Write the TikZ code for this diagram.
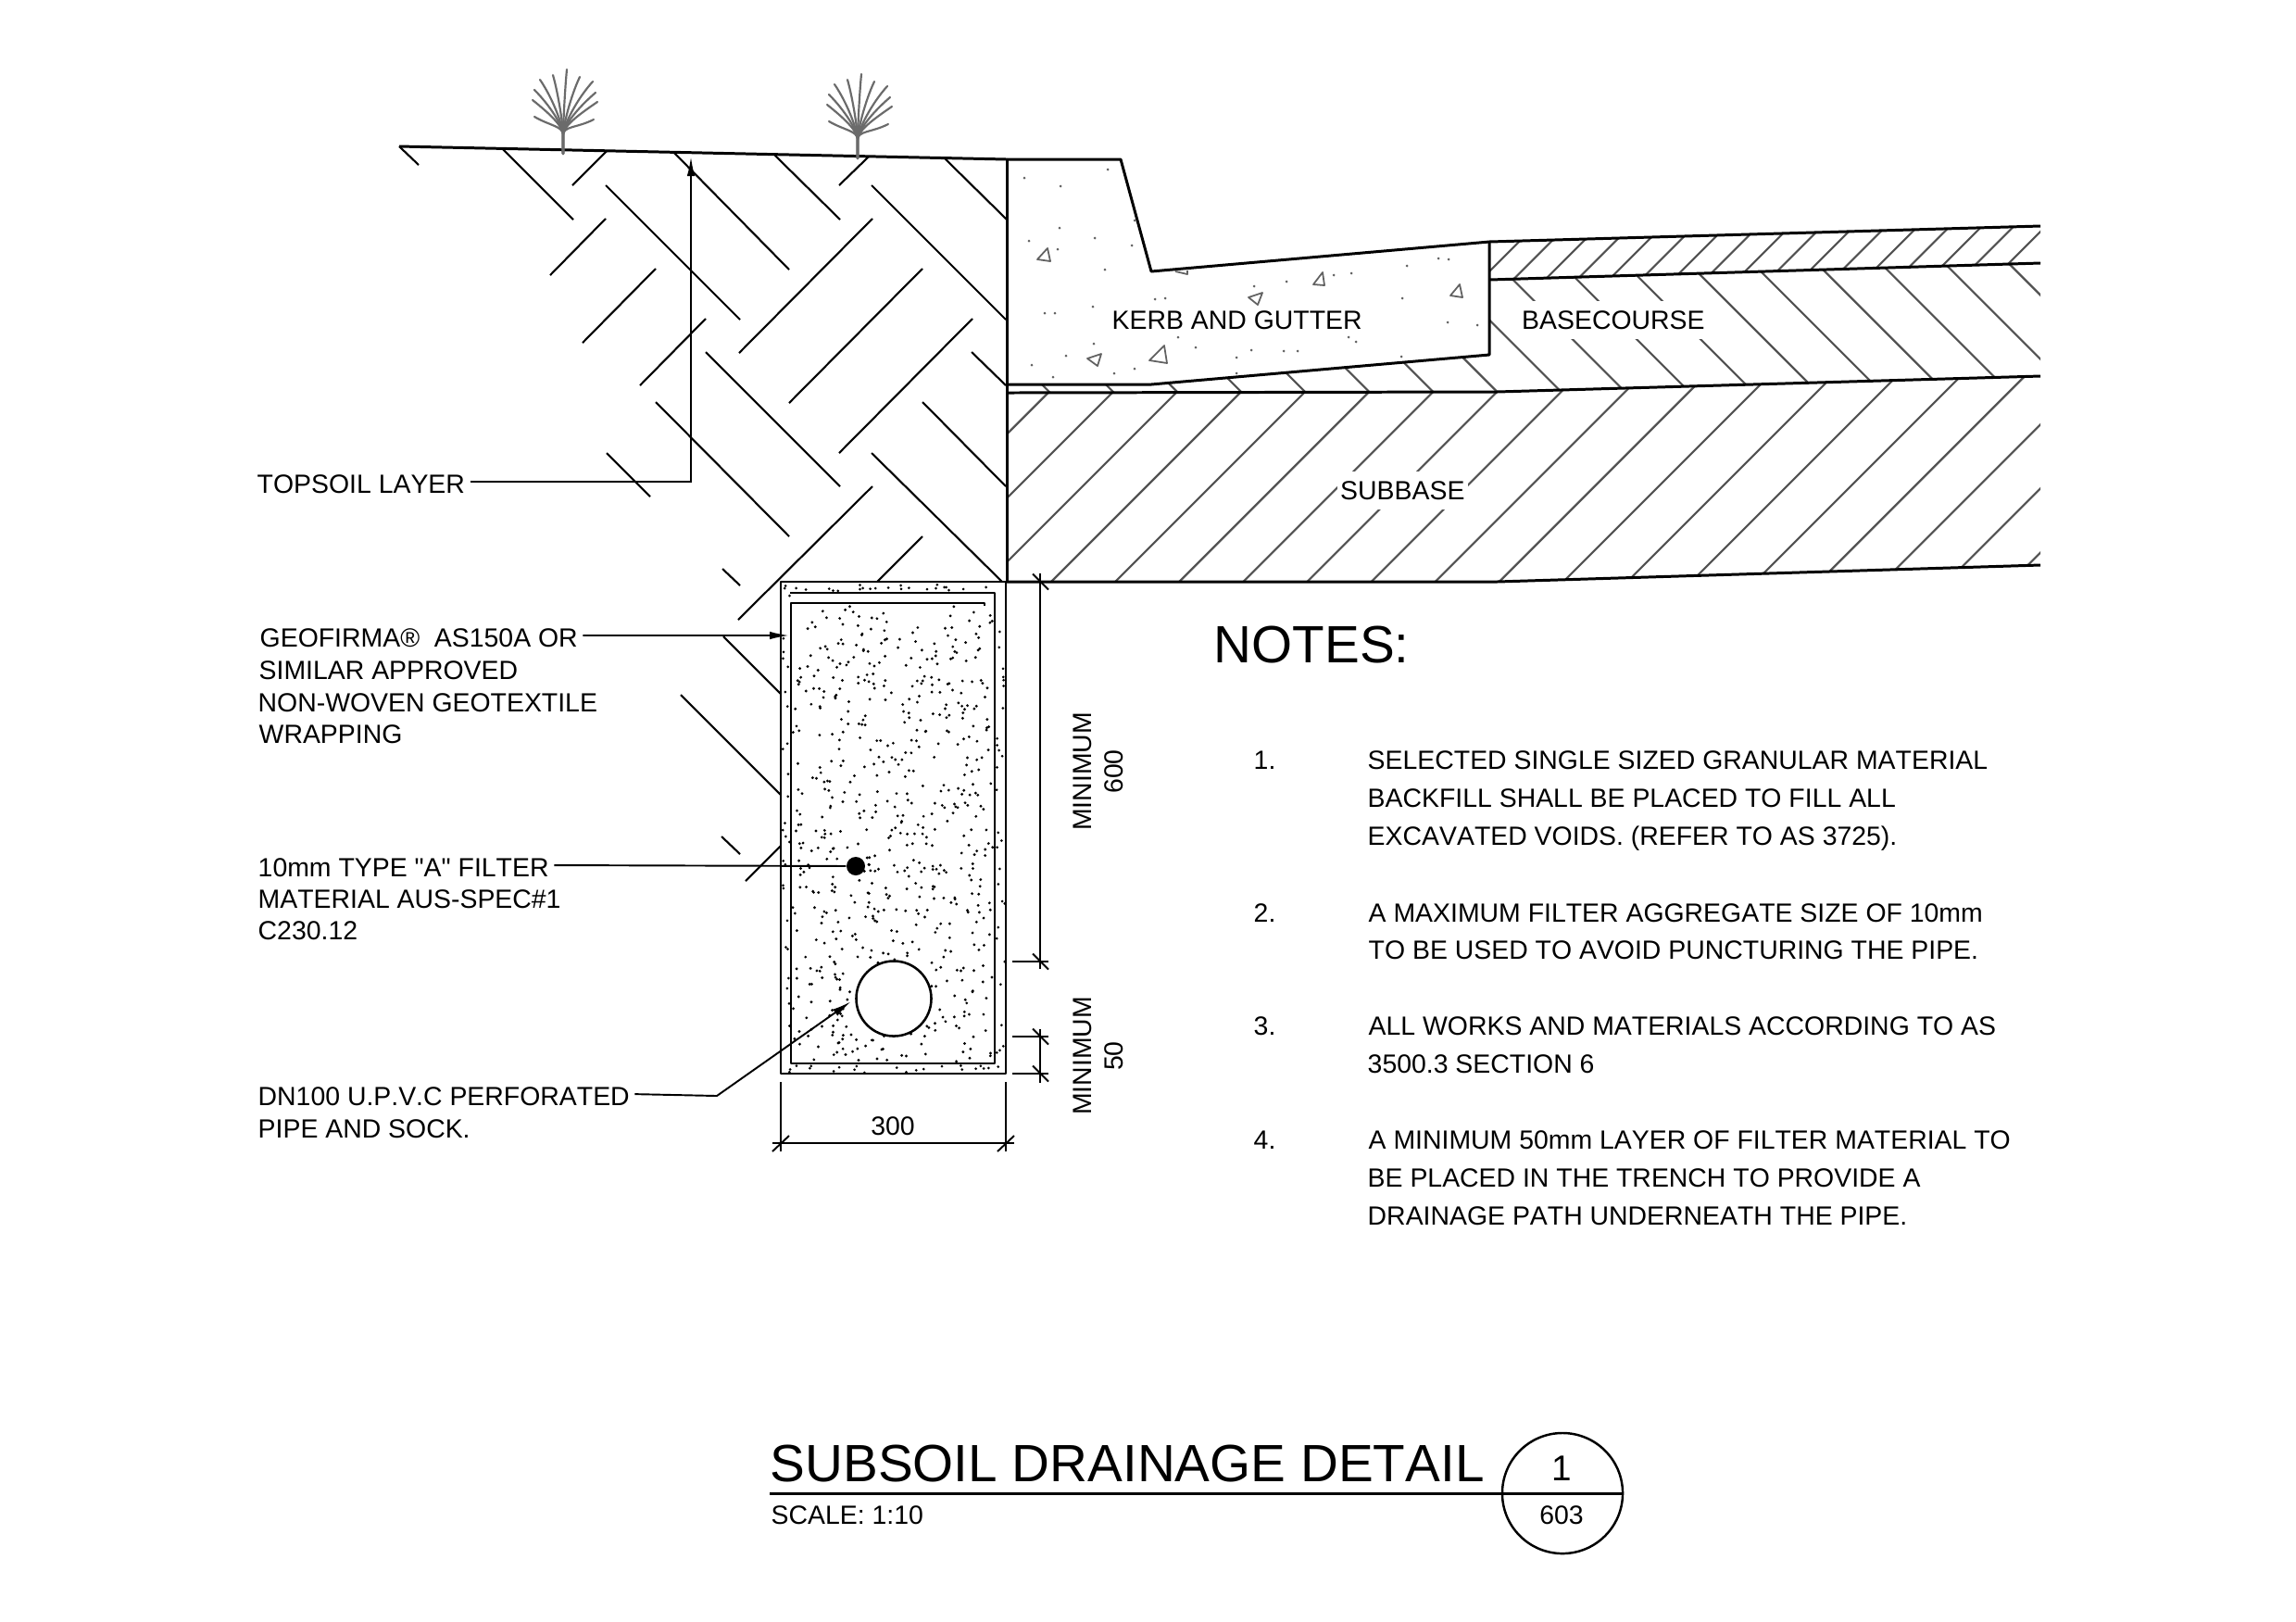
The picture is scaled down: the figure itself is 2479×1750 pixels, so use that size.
\documentclass[tikz,border=0pt]{standalone}
\usepackage{fontspec}
\setmainfont[Kerning=Off,Ligatures=TeXOff]{Liberation Sans}
\usetikzlibrary{arrows.meta}
\begin{document}
\begin{tikzpicture}[x=0.01cm,y=-0.01cm,
  main line/.style={line width=.85pt,line join=round},
  trench line/.style={line width=.72pt,line join=round},
  soil line/.style={line width=.6pt},
  thin line/.style={line width=.55pt},
  hatch line/.style={line width=.62pt,black!68},
  stone/.style={line width=.5pt,black!62,line join=round},
  lead tip/.style={-{Latex[length=2.1mm,width=.85mm]}},
  label node/.style={anchor=base west,inner sep=0pt,text height=.24cm,text depth=0pt,font=\fontsize{8.08}{10}\selectfont},
  void node/.style={anchor=base west,inner xsep=1pt,inner ysep=0pt,fill=white,text height=.30cm,text depth=.11cm,font=\fontsize{8.08}{10}\selectfont},
  side node/.style={anchor=base,rotate=90,inner sep=0pt,font=\fontsize{8.08}{10}\selectfont},
  big node/.style={anchor=base west,inner sep=0pt,font=\fontsize{16.1}{18}\selectfont},
  plant/.pic={
    \foreach \tx/\ty in {4/-91,-11/-85,18/-83,-25/-80,32/-78,-31/-69,35/-66,-33/-58,37/-56,-31/-40,33/-37}
      \draw[line width=.62pt,black!58,line cap=round] (0,0) -- (0,-20) .. controls (0,-30) and ({\tx*0.45},{\ty*0.75}) .. (\tx,\ty);
  }]
  \useasboundingbox (0,0) rectangle (2479,1750);

  % pavement hatching
  \begin{scope}
    \clip (1087,424) -- (1616,423) -- (2203,406) -- (2203,610) -- (1616,628) -- (1087,628) -- cycle;
    \foreach \k in {-4,...,16}
      \draw[hatch line] ({1763+69.1*\k-400},400) -- ({1763+69.1*\k-650},650);
  \end{scope}
  \begin{scope}
    \clip (1608,302) -- (2203,284) -- (2203,406) -- (1616,423) -- (1087,424) -- (1087,415) -- (1243,415) -- (1608,383) -- cycle;
    \foreach \k in {-13,...,6}
      \draw[hatch line] ({1539+69.1*\k+280},280) -- ({1539+69.1*\k+430},430);
  \end{scope}
  \begin{scope}
    \clip (1608,261) -- (2203,244) -- (2203,284) -- (1608,302) -- cycle;
    \foreach \k in {-1,...,17}
      \draw[hatch line] ({1901+34.5*\k-230},230) -- ({1901+34.5*\k-310},310);
  \end{scope}

  % kerb and road lines
  \draw[main line] (1087,172) -- (1210,172) -- (1243,293) -- (1608,261) -- (1608,383) -- (1243,415) -- (1087,415);
  \draw[main line] (1608,261) -- (2203,244);
  \draw[main line] (1608,302) -- (2203,284);
  \draw[main line] (1087,424) -- (1616,423) -- (2203,406);
  \draw[main line] (1087,628) -- (1616,628) -- (2203,610);
  \draw[main line] (431,158) -- (1087,172);
  \draw[main line] (1087,172) -- (1087,628);

  % topsoil hatching
  \foreach \xa/\ya/\xb/\yb in {431/158/452/178,543/161/619/237,655/163/618/200,727/164/852/291,836/167/907/237,
      938/169/906/200,1020/171/1087/237,654/200/799/345,941/200/1086/345,654/236/594/297,942/236/798/381,
      708/290/629/370,996/290/852/435,762/344/691/416,1050/344/906/489,762/380/907/525,1049/380/1086/416,
      708/434/852/579,996/434/1086/525,655/489/702/536,941/489/1082/628,942/525/797/669,996/579/947/628,
      780/614/799/632,781/687/843/749,735/750/843/858,779/903/799/922,843/913/805/951}
    \draw[soil line] (\xa,\ya) -- (\xb,\yb);

  \path (608,166) pic {plant}
        (926,171) pic {plant};

  % concrete stones and specks
  \draw[stone] (1131,268) -- (1120,280) -- (1134,282) -- cycle;
  \draw[stone] (1269,293) -- (1282,296) -- (1282,292);
  \draw[stone] (1363,316) -- (1348,321) -- (1358,329) -- cycle;
  \draw[stone] (1189,382) -- (1174,387) -- (1185,395) -- cycle;
  \draw[stone] (1257,373) -- (1241,389) -- (1260,392) -- cycle;
  \draw[stone] (1428,294) -- (1418,307) -- (1430,308) -- cycle;
  \draw[stone] (1576,307) -- (1566,319) -- (1579,321) -- cycle;
  \foreach \sx/\sy in {1196/183,1106/192,1145/201,1144/246,1111/260,1182/257,1222/265,1142/269,1225/238,1193/291,
      1354/309,1389/304,1440/297,1459/295,1519/287,1553/279,1564/280,1247/323,1258/322,1514/322,1180/331,1128/338,
      1139/338,1563/348,1595/351,1272/364,1456/364,1464/369,1181/371,1291/375,1351/378,1386/379,1401/379,1151/384,
      1335/386,1513/385,1114/394,1203/403,1225/398,1137/407,1335/403}
    \fill[black!62] (\sx,\sy) circle (1.5);

  % trench
  \pgfmathsetseed{4217}
  \foreach \i in {1,...,640}
    \fill ({856+216*rnd},{654+492*rnd}) circle (1.6);
  \foreach \i in {1,...,28}
    \fill ({845+8*rnd},{632+525*rnd}) circle (1.5);
  \foreach \i in {1,...,28}
    \fill ({1076+9*rnd},{632+525*rnd}) circle (1.5);
  \foreach \i in {1,...,22}
    \fill ({846+238*rnd},{631+7*rnd}) circle (1.5);
  \foreach \i in {1,...,22}
    \fill ({846+238*rnd},{1150+8*rnd}) circle (1.5);
  \draw[trench line] (843,628) rectangle (1086,1159);
  \draw[trench line] (853,640) -- (1074,640) -- (1074,1148) -- (854,1148) -- (854,651) -- (1063,651) -- (1063,654);
  \path (965,1078) node[circle,draw,trench line,fill=white,minimum size=.81cm,inner sep=0pt] (pipe) {}
        (924,935) node[circle,fill=black,minimum size=.2cm,inner sep=0pt] (filterdot) {};

  % labels
  \path (277,532) node[label node] (topsoil) {TOPSOIL LAYER}
        (280,698) node[label node] (geo) {GEOFIRMA\textregistered\ \ AS150A OR}
        (279,733) node[label node] (geob) {SIMILAR APPROVED}
        (278,768) node[label node] (geoc) {NON-WOVEN GEOTEXTILE}
        (279,802) node[label node] (geod) {WRAPPING}
        (278,946) node[label node] (filter) {10mm TYPE "A" FILTER}
        (278,980) node[label node] (filterb) {MATERIAL AUS-SPEC\#1}
        (278,1014) node[label node] (filterc) {C230.12}
        (278,1193) node[label node] (dn) {DN100 U.P.V.C PERFORATED}
        (278,1228) node[label node] (dnb) {PIPE AND SOCK.};
  \coordinate (topsoiltip) at (746,169);
  \coordinate (geotip) at (852,686);
  \coordinate (dnbend) at (774,1183);
  \coordinate (dntip) at (919,1081);

  \draw[thin line,lead tip,shorten <=.05cm] (topsoil.east) -| (topsoiltip);
  \draw[thin line,lead tip,shorten <=.05cm] (geo.east) -- (geotip);
  \draw[thin line,shorten <=.05cm] (filter.east) -- (filterdot);
  \draw[thin line,lead tip,shorten <=.05cm] (dn.east) -- (dnbend) -- (dntip);

  \path (1200,355) node[label node] (kerb) {KERB AND GUTTER}
        (1639,355) node[void node] (base) {BASECOURSE}
        (1443,539) node[void node] (subbase) {SUBBASE};

  % dimensions
  \draw[thin line] (1123,619) -- (1123,1046);
  \draw[thin line] (1123,1111) -- (1123,1169);
  \draw[thin line] (1093,1038) -- (1132,1038);
  \draw[thin line] (1093,1119) -- (1132,1119);
  \draw[thin line] (1093,1159) -- (1132,1159);
  \foreach \dy in {628,1038,1119,1159}
    \draw[thin line] (1115,\dy-8.5) -- (1132,\dy+8.5);
  \draw[thin line] (834,1234) -- (1095,1234);
  \draw[thin line] (843,1168) -- (843,1243);
  \draw[thin line] (1086,1168) -- (1086,1243);
  \foreach \dx in {843,1086}
    \draw[thin line] (\dx-9,1243) -- (\dx+9,1226);
  \path (1178,833) node[side node] (mina) {MINIMUM}
        (1212,833) node[side node] (minb) {600}
        (1178,1140) node[side node] (minc) {MINIMUM}
        (1212,1140) node[side node] (mind) {50}
        (964,1225) node[anchor=base,inner sep=0pt,font=\fontsize{8.08}{10}\selectfont] (width) {300};

  % notes
  \path (1310,715) node[big node] (notes) {NOTES:}
        (1353,830) node[label node] (na) {1.}
        (1476,830) node[label node] (naa) {SELECTED SINGLE SIZED GRANULAR MATERIAL}
        (1476,871) node[label node] (nab) {BACKFILL SHALL BE PLACED TO FILL ALL}
        (1476,912) node[label node] (nac) {EXCAVATED VOIDS. (REFER TO AS 3725).}
        (1353,995) node[label node] (nb) {2.}
        (1477,995) node[label node] (nba) {A MAXIMUM FILTER AGGREGATE SIZE OF 10mm}
        (1477,1035) node[label node] (nbb) {TO BE USED TO AVOID PUNCTURING THE PIPE.}
        (1353,1117) node[label node] (nc) {3.}
        (1477,1117) node[label node] (nca) {ALL WORKS AND MATERIALS ACCORDING TO AS}
        (1476,1158) node[label node] (ncb) {3500.3 SECTION 6}
        (1353,1240) node[label node] (nd) {4.}
        (1477,1240) node[label node] (nda) {A MINIMUM 50mm LAYER OF FILTER MATERIAL TO}
        (1476,1281) node[label node] (ndb) {BE PLACED IN THE TRENCH TO PROVIDE A}
        (1476,1322) node[label node] (ndc) {DRAINAGE PATH UNDERNEATH THE PIPE.};

  % title
  \path (831,1599) node[big node] (title) {SUBSOIL DRAINAGE DETAIL}
        (832,1645) node[label node] (scale) {SCALE: 1:10}
        (1687,1612) node[circle,draw,line width=.7pt,minimum size=1.3cm,inner sep=0pt] (callout) {}
        (1686,1598) node[anchor=base,inner sep=0pt,font=\fontsize{11}{13}\selectfont] (detailno) {1}
        (1686,1645) node[anchor=base,inner sep=0pt,font=\fontsize{8.08}{10}\selectfont] (sheetno) {603};
  \draw[main line] (title.base west |- callout.west) -- (callout.east);
\end{tikzpicture}
\end{document}
